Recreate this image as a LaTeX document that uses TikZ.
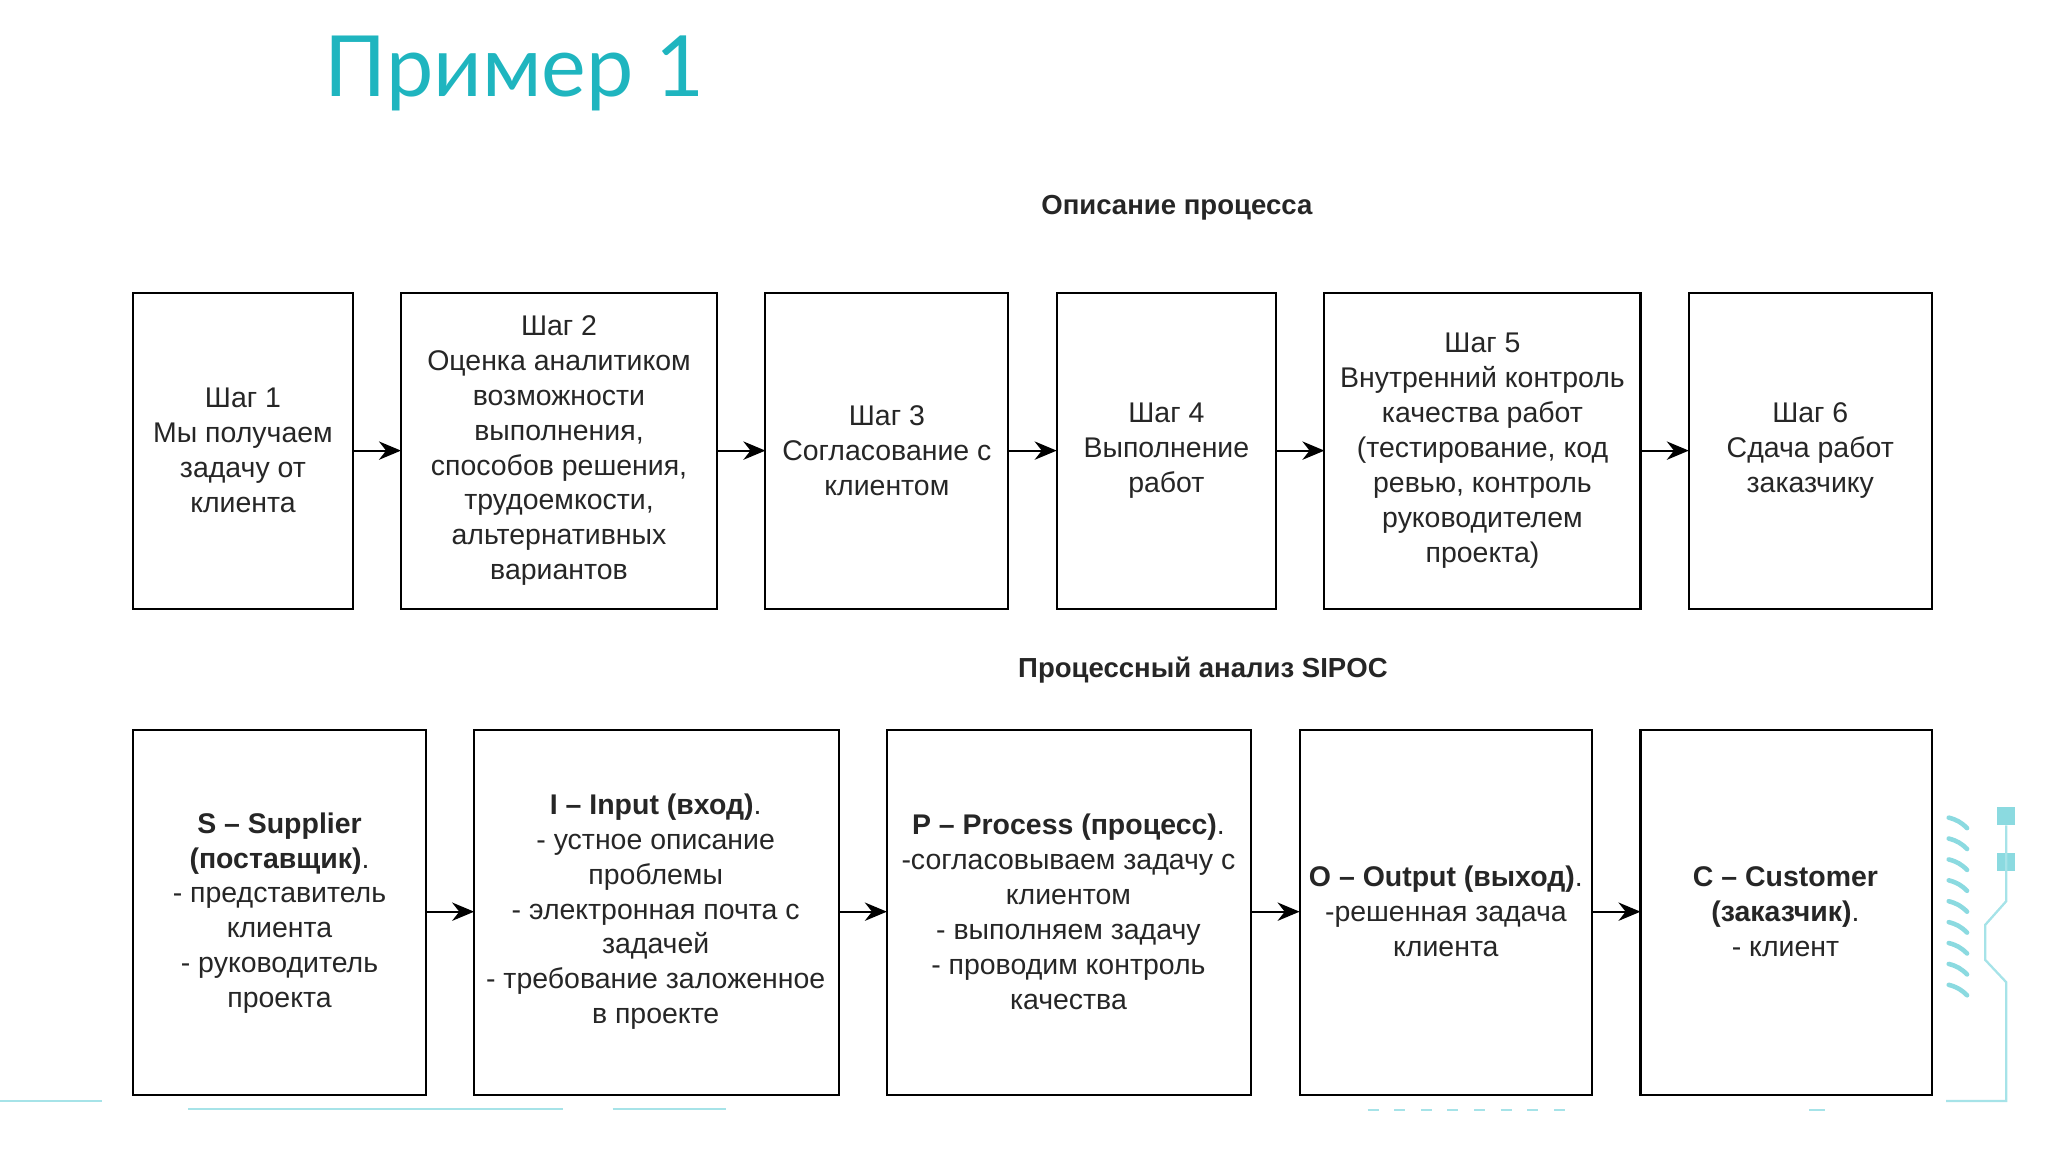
\documentclass[tikz,border=0pt]{standalone}
\usepackage{fontspec}
\setmainfont{Liberation Sans}
\newfontfamily\titlefont{Lato}
\usetikzlibrary{arrows.meta}
\definecolor{teal1}{HTML}{1FB5BF}
\definecolor{deco}{HTML}{A6E3E8}
\begin{document}
\begin{tikzpicture}[x=0.5mm,y=-0.5mm,
  box/.style={draw,line width=2.2pt},
  txt/.style={align=center,font=\fontsize{31}{38}\selectfont,text=black!85},
  head/.style={font=\bfseries\fontsize{30}{36}\selectfont,text=black!85},
  arr/.style={-{Stealth[length=24pt,width=20pt]},line width=2.2pt},
  dec/.style={draw=deco,line width=2.5pt}]
\useasboundingbox (0,0) rectangle (1568,882);
\node[font=\titlefont\fontsize{92}{100}\selectfont,text=teal1,anchor=west] (title) at (246,56) {Пример 1};
\node[head] (h1) at (901,159) {Описание процесса};
\node[head] (h2) at (921,513) {Процессный анализ SIPOC};
% row 1
\draw[box] (102,224) rectangle (270,466);
\draw[box] (307,224) rectangle (549,466);
\draw[box] (586,224) rectangle (772,466);
\draw[box] (809,224) rectangle (977,466);
\draw[box] (1014,224) rectangle (1256,466);
\draw[box] (1293,224) rectangle (1479,466);
\node[txt] (s1) at (186,345) {Шаг 1\\Мы получаем\\задачу от\\клиента};
\node[txt] (s2) at (428,345) {Шаг 2\\Оценка аналитиком\\возможности\\выполнения,\\способов решения,\\трудоемкости,\\альтернативных\\вариантов};
\node[txt] (s3) at (679,345) {Шаг 3\\Согласование с\\клиентом};
\node[txt] (s4) at (893,345) {Шаг 4\\Выполнение\\работ};
\node[txt] (s5) at (1135,345) {Шаг 5\\Внутренний контроль\\качества работ\\(тестирование, код\\ревью, контроль\\руководителем\\проекта)};
\node[txt] (s6) at (1386,345) {Шаг 6\\Сдача работ\\заказчику};
\coordinate (a1) at (270,345); \coordinate (a1e) at (307,345);
\coordinate (a2) at (549,345); \coordinate (a2e) at (586,345);
\coordinate (a3) at (772,345); \coordinate (a3e) at (809,345);
\coordinate (a4) at (977,345); \coordinate (a4e) at (1014,345);
\coordinate (a5) at (1256,345); \coordinate (a5e) at (1293,345);
\foreach \i in {1,...,5} \draw[arr] (a\i) -- (a\i e);
% row 2
\draw[box] (102,559) rectangle (326,838);
\draw[box] (363,559) rectangle (642,838);
\draw[box] (679,559) rectangle (958,838);
\draw[box] (995,559) rectangle (1219,838);
\draw[box] (1256,559) rectangle (1479,838);
\node[txt] (p1) at (214,699) {\textbf{S – Supplier}\\\textbf{(поставщик)}.\\- представитель\\клиента\\- руководитель\\проекта};
\node[txt] (p2) at (502,698) {\textbf{I – Input (вход)}.\\- устное описание\\проблемы\\- электронная почта с\\задачей\\- требование заложенное\\в проекте};
\node[txt] (p3) at (818,698) {\textbf{P – Process (процесс)}.\\-согласовываем задачу с\\клиентом\\- выполняем задачу\\- проводим контроль\\качества};
\node[txt] (p4) at (1107,698) {\textbf{O – Output (выход)}.\\-решенная задача\\клиента};
\node[txt] (p5) at (1367,698) {\textbf{C – Customer}\\\textbf{(заказчик)}.\\- клиент};
\coordinate (c1) at (326,698); \coordinate (c1e) at (363,698);
\coordinate (c2) at (642,698); \coordinate (c2e) at (679,698);
\coordinate (c3) at (958,698); \coordinate (c3e) at (995,698);
\coordinate (c4) at (1219,698); \coordinate (c4e) at (1256,698);
\foreach \i in {1,...,4} \draw[arr] (c\i) -- (c\i e);
% decoration
\foreach \k in {0,...,8} \draw[draw=deco!80!teal1,line width=5pt,line cap=round] (1492,{626+\k*16}) to[bend left=15] (1506,{634+\k*16});
\fill[deco!80!teal1] (1529,618) rectangle (1543,632);
\fill[deco!80!teal1] (1529,653) rectangle (1543,667);
\draw[dec] (1536,632) -- (1536,690) -- (1520,708) -- (1520,735) -- (1536,752) -- (1536,843) -- (1490,843);
\draw[dec] (0,843) -- (78,843);
\draw[dec] (144,849) -- (431,849);
\draw[dec] (469,849) -- (556,849);
\draw[dec,dash pattern=on 12pt off 17pt] (1047,850) -- (1207,850);
\draw[dec] (1385,850) -- (1397,850);
\end{tikzpicture}
\end{document}
